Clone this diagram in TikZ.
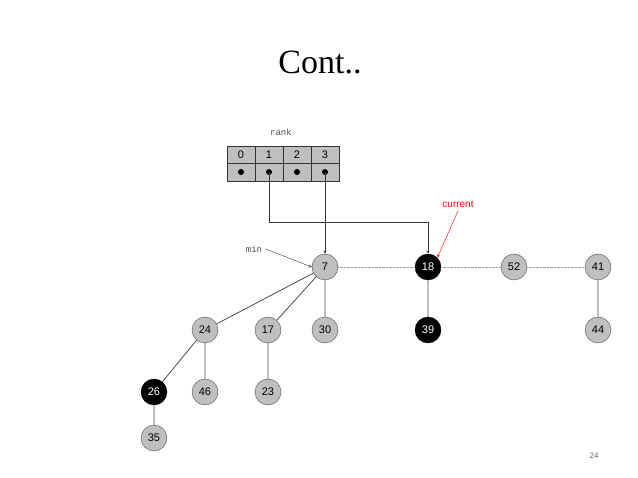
\documentclass[tikz,border=0pt]{standalone}
\usepackage{fontspec}
\setmainfont{Liberation Serif}
\newfontfamily\sansf{Liberation Sans}
\newfontfamily\monof{Liberation Mono}
\begin{document}
\begin{tikzpicture}[x=1pt,y=-1pt,
  nd/.style={circle,draw=black!70,fill=black!25,minimum size=26pt,inner sep=0pt,font=\sansf\fontsize{11}{11}\selectfont},
  bk/.style={nd,fill=black,text=white,draw=black},
  cell/.style={draw=black!80,fill=black!25,minimum width=28pt,minimum height=17.5pt,inner sep=0pt,font=\sansf\fontsize{11}{11}\selectfont},
  ed/.style={draw=black!70,line width=0.8pt},
  >=stealth]
\useasboundingbox (0,0) rectangle (638,478);
\node[font=\fontsize{34}{34}\selectfont] (title) at (320,62) {Cont..};
\foreach \i in {0,1,2,3}{
  \node[cell] (h\i) at (241+28*\i,154.5) {\i};
  \node[cell] (d\i) at (241+28*\i,172) {};
  \fill (d\i) circle (3pt);
}
\node[font=\monof\fontsize{9}{9}\selectfont,text=black!70] (rank) at (281,132) {rank};
\node[nd] (n7) at (325,267) {7};
\node[bk] (n18) at (428,267) {18};
\node[nd] (n52) at (514,267) {52};
\node[nd] (n41) at (598,267) {41};
\node[nd] (n24) at (205,330) {24};
\node[nd] (n17) at (268,330) {17};
\node[nd] (n30) at (325,330) {30};
\node[bk] (n39) at (428,330) {39};
\node[nd] (n44) at (598,330) {44};
\node[bk] (n26) at (154,392) {26};
\node[nd] (n46) at (205,392) {46};
\node[nd] (n23) at (268,392) {23};
\node[nd] (n35) at (154,438) {35};
\draw[black!40,densely dotted] (n7)--(n18) (n18)--(n52) (n52)--(n41);
\draw[ed] (n7)--(n24) (n7)--(n17) (n7)--(n30) (n18)--(n39) (n41)--(n44)
  (n24)--(n26) (n24)--(n46) (n17)--(n23) (n26)--(n35);
\draw[->,black!80] (d3.center)--(n7.north);
\coordinate (c1) at (269,222);
\draw[->,black!80] (d1.center)--(c1)-|(n18.north);
\node[font=\monof\fontsize{9}{9}\selectfont,text=black!70] (min) at (254,249) {min};
\draw[->,black!80] (min.east)--(n7.west);
\node[font=\sansf\fontsize{10}{10}\selectfont,text=red] (cur) at (458,204) {current};
\draw[->,red] (cur.south)--(n18.north east);
\node[font=\sansf\fontsize{8}{8}\selectfont,text=black!60] (pg) at (594,456) {24};
\end{tikzpicture}
\end{document}
